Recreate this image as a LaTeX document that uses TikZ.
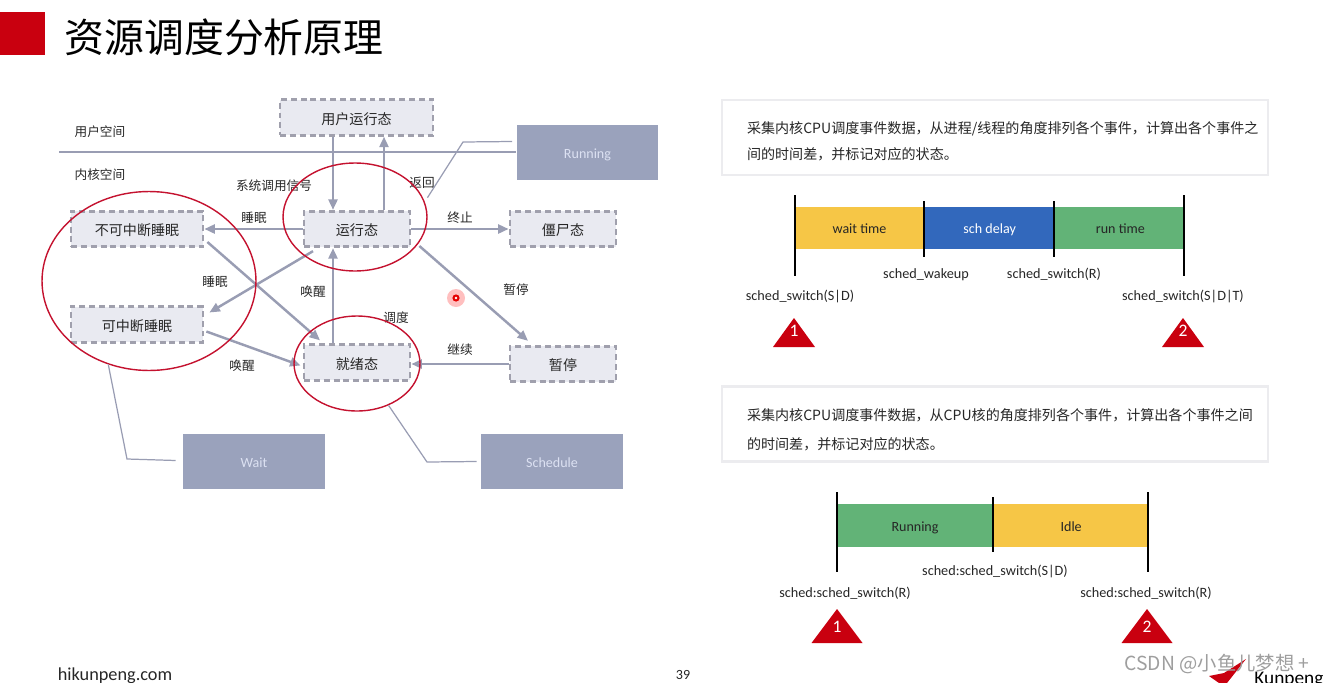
\documentclass[tikz,border=0pt]{standalone}
\usepackage{fontspec}
\setmainfont{Carlito}
\newfontfamily\cjk{Noto Sans CJK SC}
\usetikzlibrary{arrows.meta,positioning,calc,shapes.geometric}
\definecolor{kpred}{HTML}{C9000F}
\definecolor{ringred}{HTML}{C4122F}
\definecolor{slate}{HTML}{9AA2BC}
\definecolor{slatetext}{HTML}{DCE1F2}
\definecolor{wire}{HTML}{999DB3}
\definecolor{dashgray}{HTML}{A0A0AD}
\definecolor{statefill}{HTML}{E9EAF1}
\definecolor{panelline}{HTML}{ECECEF}
\definecolor{baryellow}{HTML}{F6C646}
\definecolor{barblue}{HTML}{3268BC}
\definecolor{bargreen}{HTML}{62B377}
\definecolor{inktext}{HTML}{262626}
\tikzset{
  state/.style={draw=dashgray,fill=statefill,dash pattern=on 3.4pt off 2.2pt,line width=1.6pt,
                minimum height=0.71cm,inner sep=0pt,text=inktext,text height=8.4pt,text depth=0.6pt,
                font=\cjk\fontsize{8}{10}\selectfont},
  tag/.style={font=\cjk\fontsize{7.2}{9}\selectfont,text=inktext,inner sep=0pt,
              text height=6.6pt,text depth=0.6pt},
  flow/.style={-{Triangle[length=2.1mm,width=1.8mm]},line width=1.4pt,color=wire},
  rail/.style={line width=1.4pt,color=wire},
  callout/.style={line width=0.7pt,color=wire},
  ring/.style={ellipse,draw=ringred,line width=0.8pt,inner sep=0pt},
  kind/.style={fill=slate,text=slatetext,minimum width=2.84cm,minimum height=1.1cm,
               inner sep=0pt,text height=8.6pt,text depth=2pt,font=\fontsize{8}{10}\selectfont},
  panel/.style={draw=panelline,line width=1.6pt,fill=white,minimum width=10.92cm,minimum height=1.5cm},
  body/.style={inner sep=0pt,text width=9.92cm,align=left,text=inktext},
  seg/.style={fill=#1,minimum height=0.85cm,inner sep=0pt,text height=8.6pt,text depth=2pt,
              font=\fontsize{8}{10}\selectfont},
  evt/.style={font=\fontsize{8.1}{10}\selectfont,text=inktext,inner sep=0pt,text height=7.8pt,text depth=2pt},
  tick/.style={line width=1.4pt,color=black},
  badge/.style={text=white,inner sep=0pt,font=\fontsize{10}{12}\selectfont},
}

\begin{document}
\begin{tikzpicture}[x=0.02cm,y=-0.02cm]
  \useasboundingbox (0,0) rectangle (1326,683);
  % title
  \fill[kpred] (0,12) rectangle (45,55);
  \node[inner sep=0pt,text=black,font=\cjk\fontsize{22.7}{26}\selectfont] (title) at (224,37) {资源调度分析原理};

  % user / kernel split
  \node[kind] (runbox) at (587.5,152.5) {Running};
  \node[kind] (waitbox) at (254,461.5) {Wait};
  \node[kind] (schedbox) at (552,461.5) {Schedule};
  \coordinate (railstart) at (59,152);
  \draw[rail] (railstart) -- (runbox.west |- railstart);
  \node[tag] (ulabel) at (100,131) {用户空间};
  \node[tag] (klabel) at (100,174) {内核空间};

  % states
  \node[state,minimum width=3.06cm] (usr) at (356.5,117.5) {用户运行态};
  \node[state,minimum width=2.12cm] (run) at (357,229) {运行态};
  \node[state,minimum width=2.12cm] (zomb) at (563,229) {僵尸态};
  \node[state,minimum width=2.64cm] (unint) at (137,229) {不可中断睡眠};
  \node[state,minimum width=2.64cm] (inter) at (137,324.5) {可中断睡眠};
  \node[state,minimum width=2.12cm] (ready) at (357,362.5) {就绪态};
  \node[state,minimum width=2.12cm] (pause) at (563,364) {暂停};

  % transitions
  \coordinate (downx) at (333,0);
  \coordinate (upx) at (384,0);
  \draw[flow] (usr.south -| downx) -- (run.north -| downx);
  \draw[flow] (run.north -| upx) -- (usr.south -| upx);
  \draw[flow] (run.west) -- (unint.east);
  \draw[flow] (run.east) -- (zomb.west);
  \draw[flow] (ready.north -| downx) -- (run.south -| downx);
  \draw[flow] (pause.west) -- (pause.west -| ready.east);
  \draw[flow] ($(unint.east)+(3,13)$) -- ($(ready.north)+(-37,-3)$);
  \draw[flow] ($(run.south)+(-44,3)$) -- ($(inter.east)+(5,-12)$);
  \draw[flow] ($(inter.east)+(2,7)$) -- ($(ready.west)+(-2,3)$);
  \draw[flow] ($(run.east)+(8,17)$) -- ($(pause.north)+(-35,-4)$);

  % transition labels
  \node[tag] (lsys) at (274,185) {系统调用信号};
  \node[tag] (lret) at (422,182) {返回};
  \node[tag] (lsleepa) at (254,217) {睡眠};
  \node[tag] (lsleepb) at (215,281) {睡眠};
  \node[tag] (lend) at (460,217) {终止};
  \node[tag] (lhold) at (516,289) {暂停};
  \node[tag] (lwakea) at (313,291) {唤醒};
  \node[tag] (lsched) at (396,317) {调度};
  \node[tag] (lcont) at (460,349) {继续};
  \node[tag] (lwakeb) at (242,365) {唤醒};

  % red rings and their callouts
  \node[ring,minimum width=2.88cm,minimum height=2.16cm] (runring) at (355,217) {};
  \node[ring,minimum width=4.28cm,minimum height=3.58cm] (waitring) at (149,281) {};
  \node[ring,minimum width=2.52cm,minimum height=1.9cm] (readyring) at (357,363.5) {};
  \coordinate (runbend) at (463,142);
  \coordinate (waitbend) at (127,459);
  \coordinate (schedbend) at (427,462);
  \draw[callout] ($(runbox.west)+(-4,-11)$) -- (runbend) -- ($(runring.15)+(4,-1)$);
  \draw[callout] ($(waitbox.west)+(-7,-1)$) -- (waitbend) -- (waitring.-116);
  \draw[callout] ($(schedbox.west)+(-4,0)$) -- (schedbend) -- (readyring.-53);

  % laser pointer
  \fill[red!25] (456,298) circle (9);
  \fill[red!90!black] (456,298) circle (3.6);
  \fill[white] (456,298) circle (1.3);

  % per thread view
  \node[panel] (pframe) at (995,137.5) {};
  \node[body,font=\cjk\fontsize{8}{14.7}\selectfont] (ptext) at (995,141)
    {采集内核CPU调度事件数据，从进程/线程的角度排列各个事件，计算出各个事件之\\间的时间差，并标记对应的状态。};
  \node[seg=baryellow,minimum width=2.58cm,text=inktext] (waitseg) at (859.5,228) {wait time};
  \node[seg=barblue,minimum width=2.6cm,text=white,right=0pt of waitseg] (delayseg) {sch delay};
  \node[seg=bargreen,minimum width=2.6cm,text=inktext,right=0pt of delayseg] (runseg) {run time};
  \draw[tick] (795,195) -- (795,276);
  \draw[tick] (924,201) -- (924,257);
  \draw[tick] (1054,201) -- (1054,257);
  \draw[tick] (1184,195) -- (1184,276);
  \node[evt] (ea) at (800,295) {sched\_switch(S|D)};
  \node[evt] (eb) at (926,273) {sched\_wakeup};
  \node[evt] (ec) at (1054,273) {sched\_switch(R)};
  \node[evt] (ed) at (1183,295) {sched\_switch(S|D|T)};
  \foreach \x/\n in {794/1,1183/2}{
    \fill[kpred] (\x,318) -- (\x-21,347) -- (\x+21,347) -- cycle;
    \node[badge] (pmark\n) at (\x,331) {\n};
  }

  % per core view
  \node[panel] (cframe) at (995,424) {};
  \node[body,font=\cjk\fontsize{8}{16.4}\selectfont] (ctext) at (995,430)
    {采集内核CPU调度事件数据，从CPU核的角度排列各个事件，计算出各个事件之间\\的时间差，并标记对应的状态。};
  \node[seg=bargreen,minimum width=3.12cm,text=inktext] (busyseg) at (915,525.5) {Running};
  \node[seg=baryellow,minimum width=3.1cm,text=inktext,right=0pt of busyseg] (idleseg) {Idle};
  \draw[tick] (837,492) -- (837,572);
  \draw[tick] (993,497) -- (993,552);
  \draw[tick] (1148,492) -- (1148,572);
  \node[evt] (ee) at (845,592) {sched:sched\_switch(R)};
  \node[evt] (ef) at (995,570) {sched:sched\_switch(S|D)};
  \node[evt] (eg) at (1146,592) {sched:sched\_switch(R)};
  \foreach \x/\n in {837/1,1147/2}{
    \fill[kpred] (\x,609) -- (\x-25.5,643) -- (\x+25.5,643) -- cycle;
    \node[badge] (cmark\n) at (\x,627) {\n};
  }

  % footer
  \node[inner sep=0pt,text=inktext,font=\fontsize{10.4}{12}\selectfont] (site) at (115,676) {hikunpeng.com};
  \node[inner sep=0pt,text=inktext,font=\fontsize{8}{10}\selectfont] (pageno) at (683,675) {39};
  \fill[kpred] (1209,676) -- (1224,673) -- (1246,659) -- (1227,683) -- (1219,683) -- cycle;
  \node[inner sep=0pt,anchor=west,text=black,font=\fontsize{11}{13}\selectfont] (logo) at (1254,680) {Kunpeng};
  \node[inner sep=0pt,text=black!38,font=\cjk\fontsize{11}{13}\selectfont] (mark) at (1217,664) {CSDN @小鱼儿梦想 +};
\end{tikzpicture}
\end{document}
